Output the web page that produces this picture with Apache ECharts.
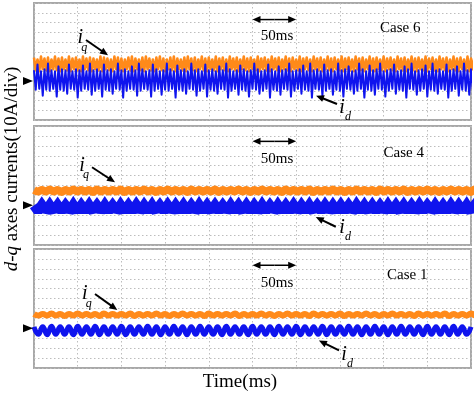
<!DOCTYPE html>
<html><head><meta charset="utf-8">
<script src="https://cdn.jsdelivr.net/npm/echarts@6/dist/echarts.min.js"></script>
<style>html,body{margin:0;padding:0;background:#fff}#c{width:474px;height:395px}</style>
</head><body><div id="c"></div>
<script>
// ---- data (currents in A, 10 A/div; time in ms, 50 ms/div) ----
const caseNames = ['Case 6', 'Case 4', 'Case 1'];
const stepIqMs = [2, 4.5, 5];
const stepIdMs = [2, 3, 5];
const xTicks = [0, 50, 100, 150, 200, 250, 300, 350, 400, 450, 500];
const yTicks = [-40, -30, -20, -10, 0, 10, 20, 30, 40, 50, 60, 70, 80];

const iq6 = [24,11,22,10,25,12,23,11,24,10,22,12,25,11,23,10,24,12,22,11,25,10,23,12,24,11,22,10,25,12,23,11,24,10,23,12,22,11,25,10,24,12,23,11,22,10,25,12,24,11,23,10,22,12,24,11,25,10,23,12,22,11,24,10,25,12,23,11,22,10,24,12,25,11,23,10,22,12,24,11,25,10,23,12,22,11,24,10,25,12,23,11,24,10,22,12,25,11,23,10,24,12,22,11,25,10,23,12,24,11,22,10,25,12,23,11,24,10,22,12,25,11,23,10,24,12,22,11,25,10,23,12,24,11,22,10,25,12,23,11,24,10,22,12,25,11,23,10,24,12,22,11,25,10,23,12,24,11,22,10,25,12,23,11,24,10,22,12,25,11,23,10,24,12,22,11,25,10,23,12,24,11,22,10,25,12,23,11,24,10,22,12,25,11,23,10,24,12,22,11,25,10,23,12,24,11,22,10,25,12,23,11,24,10,22,12,25,11,23,10,24,12,22,11,25,10,23,12,24,11,22,10,25,12,23,11,24,10,22,12,25,11,23,10,24,12,22,11,25,10,23,12,24,11,22,10,25,12,23,11];
const id6 = [11,-9,17,-8,10,-15,12,-9,18,-10,11,-8,10,-16,15,-9,12,-10,11,-13,17,-8,10,-9,12,-17,11,-10,16,-8,10,-9,18,-14,11,-10,12,-8,10,-16,17,-9,11,-10,12,-13,10,-8,18,-9,11,-17,12,-10,10,-8,15,-9,11,-15,18,-10,12,-8,10,-9,11,-16,17,-10,12,-8,10,-14,11,-9,18,-10,12,-8,10,-17,16,-9,11,-10,12,-13,10,-8,18,-9,11,-15,12,-10,10,-8,17,-16,11,-9,12,-10,10,-13,15,-8,11,-9,18,-17,12,-10,10,-8,11,-14,16,-9,12,-10,10,-16,11,-8,18,-9,12,-13,10,-10,11,-8,17,-17,12,-9,10,-10,15,-14,11,-8,12,-9,18,-16,10,-10,11,-8,12,-13,16,-9,10,-10,18,-17,11,-8,12,-9,10,-15,17,-10,11,-8,12,-14,10,-9,18,-10,11,-16,12,-8,15,-9,10,-13,11,-10,18,-8,12,-17,10,-9,16,-10,11,-14,12,-8,18,-9,10,-16,11,-10,12,-8,17,-13,10,-9,11,-10,15,-17,12,-8,18,-9,10,-14,11,-10,12,-8,16,-16,10,-9,18,-10,11,-13,12,-8,10,-9,17,-17,11,-10,12,-8,15,-15,10,-9,18,-10,11,-14,12,-8,10,-16,16,-9,11,-10,18,-13,12,-8,10,-9,17,-17,11,-10,12,-8,16,-14,10,-9];

const iq4 = [15.5,14,15.5,14,16,14,15.5,13.5,15.5,14,16,14,15.5,14,15.5,13.5,16,14,15.5,14,15.5,14,16,13.5,15.5,14,15.5,14,16,14,15.5,13.5,15.5,14,16,14,15.5,14,15.5,13.5,16,14,15.5,14,15.5,14,16,13.5,15.5,14,15.5,14,16,14,15.5,13.5,15.5,14,16,14,15.5,14,15.5,13.5,16,14,15.5,14,15.5,14,16,13.5,15.5,14,15.5,14,16,14,15.5,13.5,15.5,14,16,14,15.5,14,15.5,13.5,16,14,15.5,14,15.5,14,16,13.5,15.5,14,15.5,14,16,14,15.5,13.5,15.5,14,16,14,15.5,14,15.5,13.5,16,14];
const id4 = [0,-3.7,-3.7,0.3,-3.5,-4,0,-4,-3.5,0.2,-3.7,-3.7,0,-3.5,-3.9,0.3,-3.8,-3.6,0,-3.7,-3.7,0.2,-4,-3.5,0,-3.6,-3.8,0.3,-3.7,-3.7,0,-3.5,-4,0.2,-3.8,-3.6,0,-3.7,-3.7,0.3,-3.6,-3.9,0,-3.7,-3.7,0.2,-4,-3.5,0,-3.7,-3.7,0.3,-3.5,-3.9,0,-3.8,-3.6,0.2,-3.7,-3.7,0,-3.6,-4,0.3,-3.7,-3.7,0,-3.9,-3.5,0.2,-3.7,-3.7,0,-3.5,-3.8,0.3,-3.7,-3.7,0,-4,-3.6,0.2,-3.7,-3.7,0,-3.6,-3.9,0.3,-3.7,-3.7,0,-3.5,-4,0.2,-3.8,-3.6,0,-3.7,-3.7,0.3,-3.6,-3.9,0,-3.7,-3.7,0.2,-4,-3.5,0,-3.7,-3.7,0.3,-3.5,-3.9,0,-3.8,-3.6,0.2,-3.7,-3.7,0,-3.6,-4,0.3,-3.7,-3.7,0,-3.9,-3.5,0.2,-3.7,-3.7,0,-3.5,-3.8,0.3,-3.7,-3.7,0,-4,-3.6,0.2,-3.7,-3.7,0,-3.6,-3.9,0.3,-3.7,-3.7,0,-3.5,-4,0.2,-3.8,-3.6,0,-3.7,-3.7,0.3,-3.6,-3.9,0,-3.7,-3.7,0.2,-4,-3.5,0,-3.7,-3.7];

const iq1 = [14.5,13,14.5,13,15,13,14.5,12.5,14.5,13,15,13,14.5,13,14.5,12.5,15,13,14.5,13,14.5,13,15,12.5,14.5,13,14.5,13,15,13,14.5,12.5,14.5,13,15,13,14.5,13,14.5,12.5,15,13,14.5,13,14.5,13,15,12.5,14.5,13,14.5,13,15,13,14.5,12.5,14.5,13,15,13,14.5,13,14.5,12.5,15,13,14.5,13,14.5,13,15,12.5,14.5,13,14.5,13,15,13,14.5,12.5,14.5,13,15,13,14.5,13,14.5,12.5,15,13,14.5,13,14.5,13,15,12.5,14.5,13,14.5,13,15,13,14.5];
const id1 = [1.5,-6,1.5,-6.5,2,-6,1.5,-6,1.5,-6.5,2,-6,1.5,-6,2,-6.5,1.5,-6,1.5,-6,2,-6.5,1.5,-6,1.5,-6,2,-6,1.5,-6.5,1.5,-6,2,-6,1.5,-6.5,1.5,-6,2,-6,1.5,-6,1.5,-6.5,2,-6,1.5,-6,1.5,-6.5,2,-6,1.5,-6,1.5,-6.5,2,-6,1.5,-6,2,-6.5,1.5,-6,1.5,-6,2,-6.5,1.5,-6,1.5,-6,2,-6,1.5,-6.5,1.5,-6,2,-6,1.5,-6.5,1.5,-6,2,-6,1.5,-6,1.5,-6.5,2,-6,1.5,-6,1.5,-6.5,2,-6,1.5,-6,1.5];

// annotation anchors in data units (ms, A) per panel
const casePos   = [[419, 54], [423, 52.5], [427, 53.5]];
const scaleSpan = [250, 300];
const scaleY    = [63, 64.5, 63.6];
const scaleTextY= [46, 46.5, 45.5];
const iqText    = [[53, 44], [55, 40.4], [58, 35]];
const iqArrow   = [[[59.5, 42], [84.7, 26.5]], [[66.4, 38.4], [92.7, 23.2]], [[69.8, 34.6], [95.3, 18.5]]];
const idText    = [[352.4, -27.7], [352.4, -23], [354.7, -27]];
const idArrow   = [[[346.7, -23.6], [322.7, -15]], [[345.3, -21.6], [322.4, -11.8]], [[349, -22.3], [326, -12.3]]];

const ORANGE = '#ff8a1a', BLUE = '#0f14ee';
const SERIF = '"Liberation Serif", "Times New Roman", serif';

const iqSets = [iq6, iq4, iq1], idSets = [id6, id4, id1];
const lineW = [[2.6, 2], [8, 10], [6, 5]];
const smoothIq = [false, 0.3, 0.5], smoothId = [false, false, 0.5];
const joinId = ['round', 'miter', 'round'];

function toPairs(arr, step) { return arr.map((v, i) => [i * step, v]); }

const gridBoxes = [{top: 3, height: 117}, {top: 126, height: 119}, {top: 249, height: 119}];
const splitStyle = {show: true, lineStyle: {color: '#bdbdbd', width: 1, type: [1.5, 2.5]}};
const option = {
  animation: false,
  backgroundColor: '#fff',
  grid: gridBoxes.map(g => ({left: 34, width: 437, top: g.top, height: g.height, show: true,
    borderColor: '#a8a8a8', borderWidth: 2, backgroundColor: '#fff'})),
  xAxis: gridBoxes.map((g, i) => ({type: 'value', gridIndex: i, min: xTicks[0], max: xTicks[xTicks.length - 1],
    interval: xTicks[1] - xTicks[0], axisLine: {show: false}, axisTick: {show: false}, axisLabel: {show: false},
    splitLine: splitStyle})),
  yAxis: gridBoxes.map((g, i) => ({type: 'value', gridIndex: i, min: yTicks[0], max: yTicks[yTicks.length - 1],
    interval: yTicks[1] - yTicks[0], axisLine: {show: false}, axisTick: {show: false}, axisLabel: {show: false},
    splitLine: splitStyle})),
  series: []
};
for (let i = 0; i < 3; i++) {
  option.series.push({type: 'line', xAxisIndex: i, yAxisIndex: i, name: 'iq', symbol: 'none', smooth: smoothIq[i],
    data: toPairs(iqSets[i], stepIqMs[i]), lineStyle: {color: ORANGE, width: lineW[i][0], join: 'round'}, z: 2});
  option.series.push({type: 'line', xAxisIndex: i, yAxisIndex: i, name: 'id', symbol: 'none', smooth: smoothId[i],
    data: toPairs(idSets[i], stepIdMs[i]), lineStyle: {color: BLUE, width: lineW[i][1], join: joinId[i], miterLimit: 10}, z: 3});
}

const chart = echarts.init(document.getElementById('c'), null, {renderer: 'canvas'});
chart.setOption(option);

const P = (g, pt) => chart.convertToPixel({gridIndex: g}, pt);
const els = [];
function txt(x, y, text, size, italic) {
  els.push({type: 'text', x: x, y: y, z: 100, style: {text: text, fontSize: size, fontFamily: SERIF,
    fontStyle: italic ? 'italic' : 'normal', fill: '#000', align: 'center', verticalAlign: 'middle',
    textAlign: 'center', textVerticalAlign: 'middle'}});
}
function arrow(a, b, head, hw, w) {
  const dx = b[0] - a[0], dy = b[1] - a[1], L = Math.hypot(dx, dy), ux = dx / L, uy = dy / L;
  const bx = b[0] - ux * head, by = b[1] - uy * head, px = -uy, py = ux;
  els.push({type: 'line', z: 100, shape: {x1: a[0], y1: a[1], x2: bx + ux, y2: by + uy}, style: {stroke: '#000', lineWidth: w}});
  els.push({type: 'polygon', z: 100, shape: {points: [[b[0], b[1]], [bx + px * hw, by + py * hw], [bx - px * hw, by - py * hw]]}, style: {fill: '#000'}});
}
for (let g = 0; g < 3; g++) {
  const z0 = P(g, [0, 0]);
  els.push({type: 'polygon', z: 100, shape: {points: [[z0[0] - 11, z0[1] - 4], [z0[0] - 1, z0[1]], [z0[0] - 11, z0[1] + 4]]}, style: {fill: '#000'}});
  const c = P(g, casePos[g]); txt(c[0], c[1], caseNames[g], 15, false);
  const s0 = P(g, [scaleSpan[0], scaleY[g]]), s1 = P(g, [scaleSpan[1], scaleY[g]]);
  const mid = [(s0[0] + s1[0]) / 2, s0[1]];
  arrow(mid, s0, 8, 3.5, 1.5); arrow(mid, s1, 8, 3.5, 1.5);
  const st = P(g, [(scaleSpan[0] + scaleSpan[1]) / 2 + 3, scaleTextY[g]]);
  txt(st[0], st[1], (scaleSpan[1] - scaleSpan[0]) + 'ms', 15, false);
  const qi = P(g, iqText[g]); txt(qi[0], qi[1], 'i', 20, true); txt(qi[0] + 4, qi[1] + 10, 'q', 12, true);
  arrow(P(g, iqArrow[g][0]), P(g, iqArrow[g][1]), 8, 3.5, 2);
  const di = P(g, idText[g]); txt(di[0], di[1], 'i', 20, true); txt(di[0] + 6, di[1] + 9, 'd', 12, true);
  arrow(P(g, idArrow[g][0]), P(g, idArrow[g][1]), 8, 3.5, 2);
}
txt(240, 382, 'Time(ms)', 19, false);
els.push({type: 'text', x: 12, y: 169, rotation: Math.PI / 2, z: 100, style: {
  text: '{it|d-q} axes currents(10A/div)', fontSize: 19, fontFamily: SERIF, fill: '#000',
  align: 'center', verticalAlign: 'middle', textAlign: 'center', textVerticalAlign: 'middle',
  rich: {it: {fontStyle: 'italic', fontSize: 19, fontFamily: SERIF, fill: '#000'}}}});
chart.setOption({graphic: els});
</script>
</body></html>
